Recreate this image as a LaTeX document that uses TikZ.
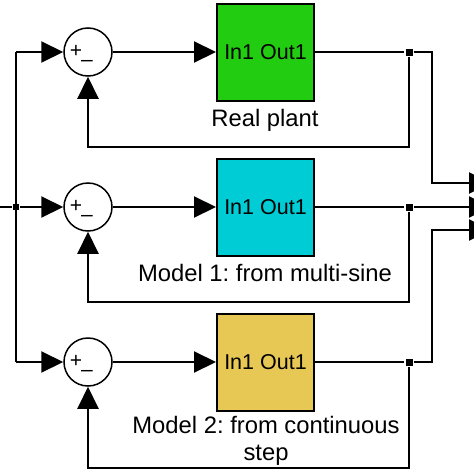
\documentclass[tikz,border=0pt]{standalone}
\usepackage{fontspec}
\setmainfont{Liberation Sans}
\usetikzlibrary{arrows.meta,calc}
\frenchspacing
\begin{document}
\begin{tikzpicture}[x=1pt,y=-1pt,line width=2.1pt,
  sig/.style={-{Triangle[length=22pt,width=21pt]}},
  sumblk/.style={circle,draw,line width=1.5pt,minimum size=48pt,inner sep=0pt},
  plant/.style={draw,line width=2pt,minimum width=97pt,minimum height=97pt,inner sep=0pt,font=\fontsize{21.5}{23}\selectfont},
  lbl/.style={font=\fontsize{23.8}{27}\selectfont,align=center},
  sgn/.style={font=\fontsize{21}{21}\selectfont,inner sep=0pt},
  jdot/.style={fill,rectangle,minimum size=7pt,inner sep=0pt}]
\useasboundingbox (0,0) rectangle (474,474);
\fill[white] (0,0) rectangle (474,474);
\clip (0,0) rectangle (474,474);
\definecolor{cgreen}{RGB}{34,204,17}
\definecolor{ccyan}{RGB}{0,204,214}
\definecolor{cyell}{RGB}{231,200,85}
% sums
\node[sumblk] (s1) at (88,52) {};
\node[sumblk] (s2) at (88,207) {};
\node[sumblk] (s3) at (88,362) {};
\foreach \s in {s1,s2,s3}{
  \node[sgn] (\s p) at ($(\s)+(-12,-1)$) {+};
  \node[sgn] (\s m) at ($(\s)+(-1,11)$) {--};
}
% plants
\node[plant,fill=cgreen] (p1) at (265.5,52) {In1 Out1};
\node[plant,fill=ccyan] (p2) at (265.5,207) {In1 Out1};
\node[plant,fill=cyell] (p3) at (265.5,362) {In1 Out1};
\node[lbl] (t1) at (265,120) {Real plant};
\node[lbl] (t2) at (265,273) {Model 1: from multi-sine};
\node[lbl] (t3) at (266,441) {Model 2: from continuous\\step};
% junctions
\node[jdot] (J1) at (409,52) {};
\node[jdot] (J2) at (409,207) {};
\node[jdot] (J3) at (409,362) {};
\node[jdot,minimum size=6pt] (JL) at (16,207) {};
\coordinate (in) at (0,207);
\coordinate (L1) at (16,52);
\coordinate (L3) at (16,362);
\coordinate (F1) at (409,147);
\coordinate (F2) at (409,302);
\coordinate (F3) at (409,468);
\coordinate (M1) at (491,183);
\coordinate (M2) at (491,207);
\coordinate (M3) at (491,230);
% input distribution
\draw (in) -- (JL);
\draw (L1) -- (L3);
\draw[sig] (L1) -- (s1);
\draw[sig] (JL) -- (s2);
\draw[sig] (L3) -- (s3);
% forward
\draw[sig] (s1) -- (p1);
\draw[sig] (s2) -- (p2);
\draw[sig] (s3) -- (p3);
\draw (p1) -- (J1);
\draw (p2) -- (J2);
\draw (p3) -- (J3);
% feedback
\draw[sig] (J1) -- (F1) -| (s1.south);
\draw[sig] (J2) -- (F2) -| (s2.south);
\draw[sig] (J3) -- (F3) -| (s3.south);
% to mux
\draw[sig] (J1) -| (432,183) -- (M1);
\draw[sig] (J2) -- (M2);
\draw[sig] (J3) -| (432,230) -- (M3);
\end{tikzpicture}
\end{document}
